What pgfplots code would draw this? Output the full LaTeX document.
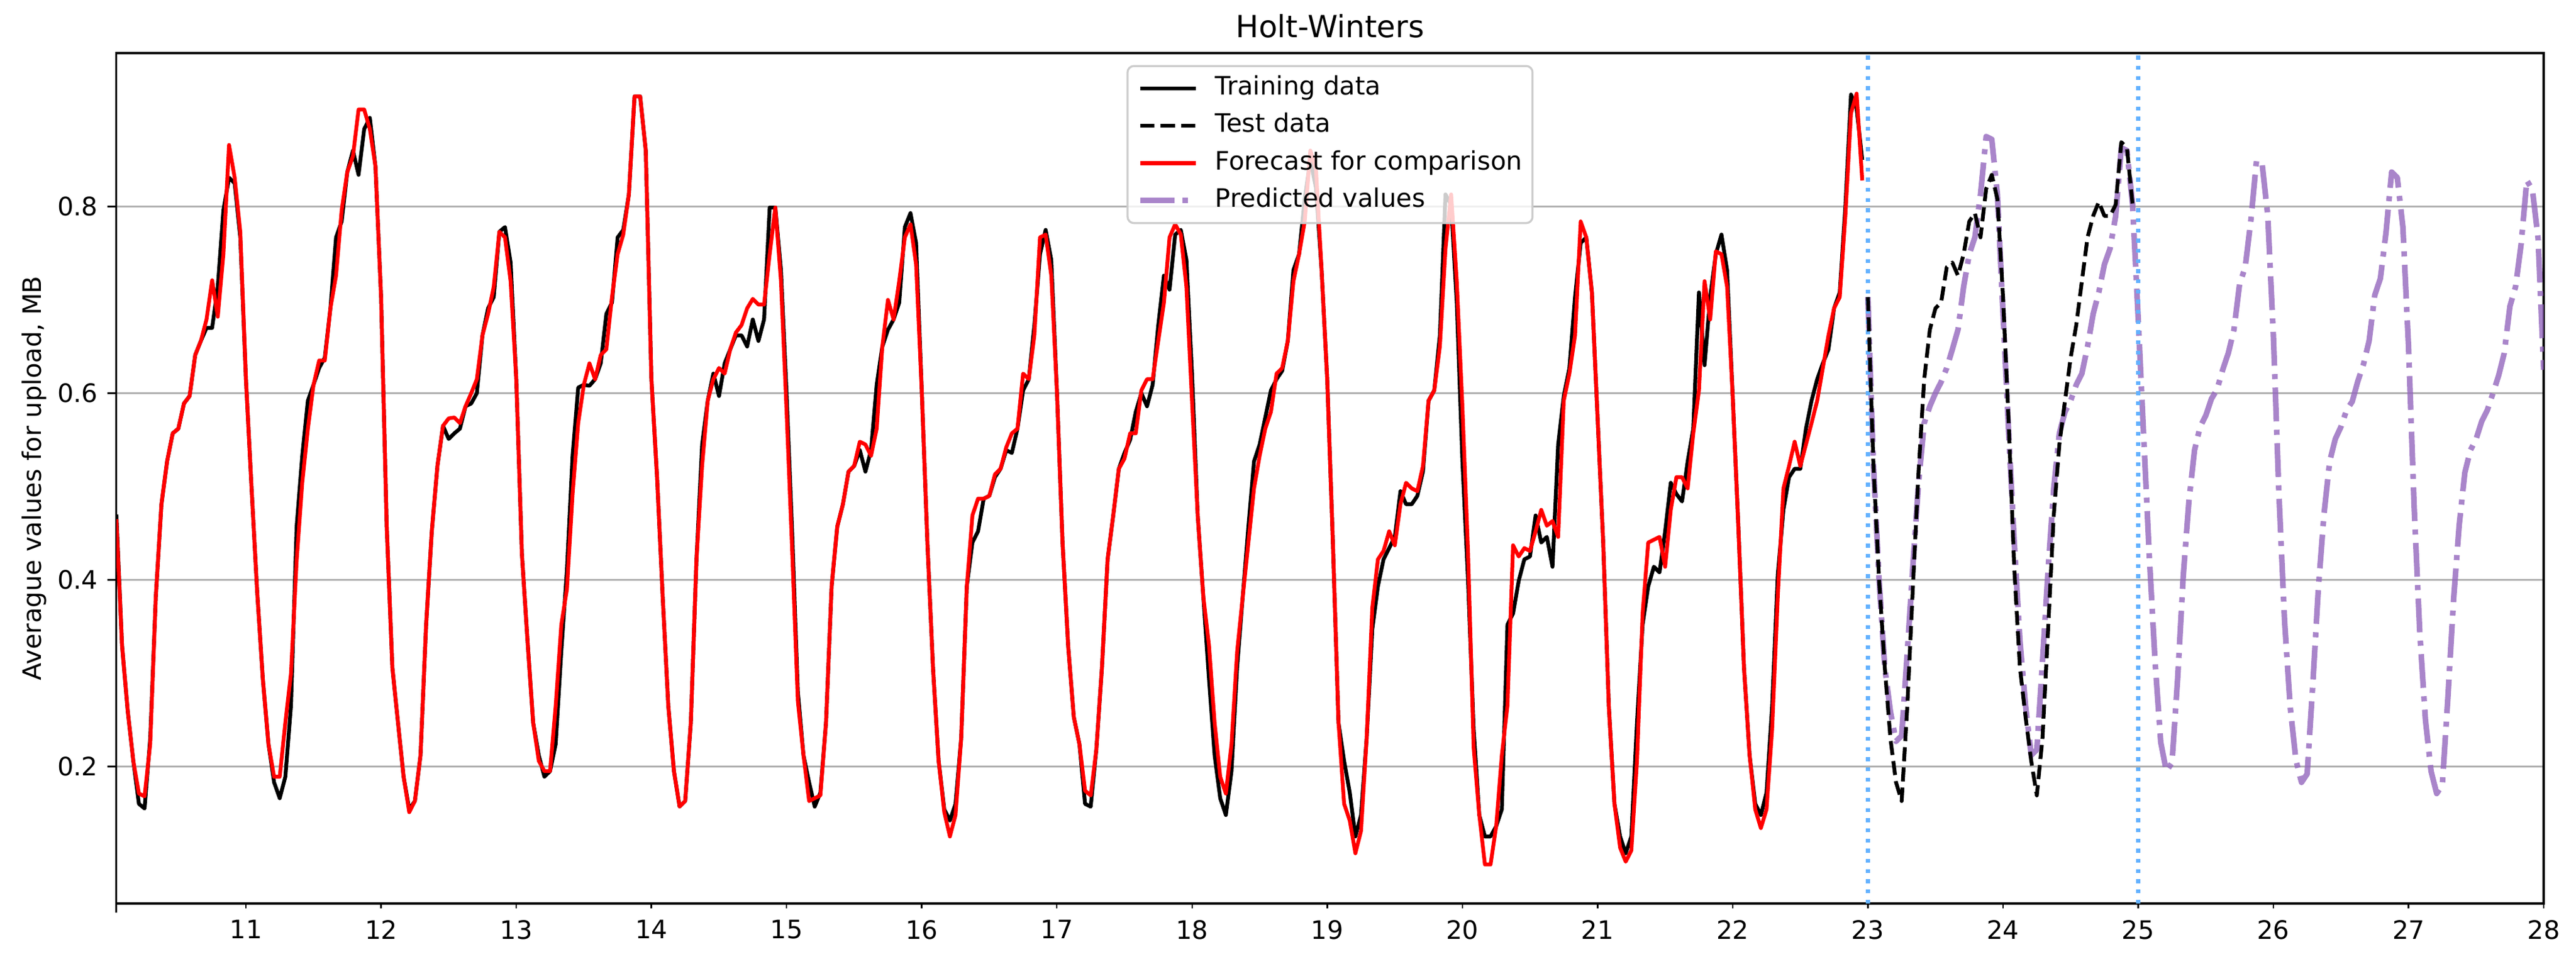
\documentclass[border=0pt]{standalone}
\usepackage{fontspec}
\setmainfont{DejaVu Sans}
\usepackage{pgfplots}
\usepackage{pgfplotstable}
\pgfplotsset{compat=1.18}

\definecolor{predc}{RGB}{148,103,189}
\definecolor{vline}{RGB}{98,177,255}
\definecolor{gridc}{RGB}{176,176,176}
\definecolor{legc}{RGB}{204,204,204}

\pgfplotstableread{
x y f
10.0417 0.470 0.465
10.0833 0.330 0.330
10.1250 0.260 0.260
10.1667 0.206 0.206
10.2083 0.160 0.171
10.2500 0.155 0.168
10.2917 0.230 0.224
10.3333 0.382 0.382
10.3750 0.481 0.481
10.4167 0.527 0.527
10.4583 0.557 0.557
10.5000 0.562 0.562
10.5417 0.589 0.589
10.5833 0.597 0.597
10.6250 0.641 0.641
10.6667 0.656 0.656
10.7083 0.670 0.679
10.7500 0.670 0.721
10.7917 0.714 0.682
10.8333 0.796 0.749
10.8750 0.831 0.866
10.9167 0.825 0.831
10.9583 0.767 0.773
11.0000 0.615 0.615
11.0417 0.498 0.498
11.0833 0.387 0.387
11.1250 0.294 0.294
11.1667 0.224 0.224
11.2083 0.183 0.189
11.2500 0.166 0.189
11.2917 0.189 0.247
11.3333 0.265 0.300
11.3750 0.457 0.420
11.4167 0.533 0.504
11.4583 0.592 0.562
11.5000 0.609 0.609
11.5417 0.627 0.635
11.5833 0.638 0.635
11.6250 0.691 0.691
11.6667 0.767 0.726
11.7083 0.784 0.796
11.7500 0.837 0.837
11.7917 0.860 0.854
11.8333 0.834 0.904
11.8750 0.883 0.904
11.9167 0.895 0.883
11.9583 0.843 0.843
12.0000 0.703 0.703
12.0417 0.457 0.457
12.0833 0.306 0.306
12.1250 0.247 0.247
12.1667 0.189 0.189
12.2083 0.154 0.151
12.2500 0.163 0.163
12.2917 0.212 0.212
12.3333 0.352 0.352
12.3750 0.452 0.452
12.4167 0.522 0.522
12.4583 0.565 0.565
12.5000 0.551 0.573
12.5417 0.557 0.574
12.5833 0.562 0.568
12.6250 0.586 0.586
12.6667 0.589 0.600
12.7083 0.600 0.615
12.7500 0.662 0.662
12.7917 0.691 0.685
12.8333 0.703 0.714
12.8750 0.773 0.773
12.9167 0.778 0.767
12.9583 0.740 0.720
13.0000 0.615 0.615
13.0417 0.428 0.428
13.0833 0.335 0.335
13.1250 0.247 0.247
13.1667 0.212 0.206
13.2083 0.189 0.195
13.2500 0.195 0.195
13.2917 0.224 0.265
13.3333 0.323 0.352
13.3750 0.411 0.390
13.4167 0.533 0.492
13.4583 0.606 0.568
13.5000 0.609 0.609
13.5417 0.608 0.632
13.5833 0.615 0.615
13.6250 0.632 0.641
13.6667 0.685 0.647
13.7083 0.697 0.703
13.7500 0.767 0.749
13.7917 0.775 0.770
13.8333 0.813 0.813
13.8750 0.918 0.918
13.9167 0.918 0.918
13.9583 0.860 0.860
14.0000 0.615 0.615
14.0417 0.510 0.510
14.0833 0.382 0.382
14.1250 0.265 0.265
14.1667 0.195 0.195
14.2083 0.157 0.157
14.2500 0.163 0.163
14.2917 0.247 0.247
14.3333 0.422 0.422
14.3750 0.545 0.522
14.4167 0.592 0.592
14.4583 0.621 0.615
14.5000 0.597 0.627
14.5417 0.632 0.621
14.5833 0.647 0.647
14.6250 0.662 0.665
14.6667 0.662 0.673
14.7083 0.650 0.691
14.7500 0.679 0.701
14.7917 0.656 0.695
14.8333 0.679 0.695
14.8750 0.799 0.749
14.9167 0.799 0.799
14.9583 0.732 0.720
15.0000 0.600 0.580
15.0417 0.450 0.430
15.0833 0.280 0.270
15.1250 0.212 0.212
15.1667 0.183 0.163
15.2083 0.157 0.166
15.2500 0.172 0.169
15.2917 0.247 0.247
15.3333 0.393 0.393
15.3750 0.457 0.457
15.4167 0.481 0.481
15.4583 0.516 0.516
15.5000 0.522 0.522
15.5417 0.539 0.548
15.5833 0.516 0.545
15.6250 0.539 0.533
15.6667 0.609 0.562
15.7083 0.650 0.650
15.7500 0.668 0.700
15.7917 0.679 0.679
15.8333 0.697 0.720
15.8750 0.778 0.767
15.9167 0.793 0.781
15.9583 0.761 0.738
16.0000 0.603 0.603
16.0417 0.440 0.440
16.0833 0.306 0.306
16.1250 0.206 0.206
16.1667 0.154 0.151
16.2083 0.142 0.125
16.2500 0.160 0.148
16.2917 0.230 0.230
16.3333 0.393 0.393
16.3750 0.440 0.469
16.4167 0.452 0.487
16.4583 0.487 0.487
16.5000 0.490 0.490
16.5417 0.510 0.513
16.5833 0.519 0.519
16.6250 0.539 0.542
16.6667 0.536 0.557
16.7083 0.562 0.562
16.7500 0.603 0.621
16.7917 0.615 0.615
16.8333 0.673 0.662
16.8750 0.749 0.767
16.9167 0.775 0.770
16.9583 0.743 0.726
17.0000 0.603 0.603
17.0417 0.440 0.440
17.0833 0.329 0.329
17.1250 0.253 0.253
17.1667 0.224 0.224
17.2083 0.160 0.174
17.2500 0.157 0.169
17.2917 0.218 0.218
17.3333 0.306 0.306
17.3750 0.422 0.422
17.4167 0.469 0.469
17.4583 0.519 0.519
17.5000 0.536 0.530
17.5417 0.550 0.557
17.5833 0.580 0.557
17.6250 0.600 0.603
17.6667 0.586 0.615
17.7083 0.609 0.615
17.7500 0.673 0.656
17.7917 0.726 0.697
17.8333 0.711 0.767
17.8750 0.770 0.781
17.9167 0.775 0.770
17.9583 0.743 0.714
18.0000 0.620 0.590
18.0417 0.469 0.469
18.0833 0.382 0.382
18.1250 0.294 0.330
18.1667 0.212 0.247
18.2083 0.166 0.189
18.2500 0.148 0.171
18.2917 0.195 0.224
18.3333 0.306 0.323
18.3750 0.382 0.382
18.4167 0.457 0.440
18.4583 0.527 0.498
18.5000 0.545 0.533
18.5417 0.574 0.562
18.5833 0.603 0.580
18.6250 0.615 0.621
18.6667 0.624 0.627
18.7083 0.656 0.656
18.7500 0.732 0.720
18.7917 0.749 0.749
18.8333 0.808 0.784
18.8750 0.850 0.860
18.9167 0.820 0.840
18.9583 0.732 0.732
19.0000 0.615 0.615
19.0417 0.440 0.440
19.0833 0.247 0.247
19.1250 0.206 0.160
19.1667 0.172 0.142
19.2083 0.125 0.107
19.2500 0.148 0.131
19.2917 0.230 0.230
19.3333 0.347 0.370
19.3750 0.393 0.422
19.4167 0.422 0.431
19.4583 0.434 0.452
19.5000 0.446 0.437
19.5417 0.495 0.481
19.5833 0.481 0.504
19.6250 0.481 0.498
19.6667 0.490 0.495
19.7083 0.516 0.522
19.7500 0.592 0.592
19.7917 0.603 0.603
19.8333 0.662 0.650
19.8750 0.813 0.755
19.9167 0.802 0.813
19.9583 0.697 0.720
20.0000 0.527 0.586
20.0417 0.400 0.430
20.0833 0.240 0.220
20.1250 0.148 0.148
20.1667 0.125 0.095
20.2083 0.125 0.095
20.2500 0.136 0.136
20.2917 0.154 0.212
20.3333 0.352 0.265
20.3750 0.364 0.437
20.4167 0.399 0.425
20.4583 0.422 0.434
20.5000 0.425 0.431
20.5417 0.469 0.452
20.5833 0.440 0.475
20.6250 0.446 0.458
20.6667 0.414 0.463
20.7083 0.545 0.446
20.7500 0.597 0.592
20.7917 0.627 0.621
20.8333 0.703 0.662
20.8750 0.761 0.784
20.9167 0.767 0.767
20.9583 0.708 0.708
21.0000 0.574 0.574
21.0417 0.440 0.440
21.0833 0.265 0.265
21.1250 0.160 0.160
21.1667 0.125 0.113
21.2083 0.107 0.098
21.2500 0.125 0.110
21.2917 0.247 0.206
21.3333 0.352 0.364
21.3750 0.393 0.440
21.4167 0.414 0.443
21.4583 0.408 0.446
21.5000 0.452 0.414
21.5417 0.504 0.475
21.5833 0.492 0.510
21.6250 0.484 0.510
21.6667 0.527 0.498
21.7083 0.562 0.557
21.7500 0.708 0.603
21.7917 0.630 0.720
21.8333 0.703 0.679
21.8750 0.749 0.752
21.9167 0.770 0.749
21.9583 0.732 0.714
22.0000 0.597 0.597
22.0417 0.457 0.457
22.0833 0.306 0.306
22.1250 0.212 0.212
22.1667 0.160 0.154
22.2083 0.148 0.134
22.2500 0.172 0.154
22.2917 0.265 0.240
22.3333 0.405 0.382
22.3750 0.475 0.498
22.4167 0.510 0.522
22.4583 0.519 0.548
22.5000 0.519 0.522
22.5417 0.562 0.545
22.5833 0.592 0.568
22.6250 0.615 0.592
22.6667 0.632 0.627
22.7083 0.647 0.662
22.7500 0.691 0.691
22.7917 0.708 0.703
22.8333 0.800 0.790
22.8750 0.920 0.900
22.9167 0.905 0.921
22.9583 0.850 0.828
}\traintab

\pgfplotstableread{
x y
23.0000 0.703
23.0417 0.522
23.0833 0.399
23.1250 0.306
23.1667 0.230
23.2083 0.183
23.2500 0.163
23.2917 0.265
23.3333 0.393
23.3750 0.516
23.4167 0.615
23.4583 0.668
23.5000 0.691
23.5417 0.697
23.5833 0.735
23.6250 0.740
23.6667 0.726
23.7083 0.749
23.7500 0.784
23.7917 0.793
23.8333 0.767
23.8750 0.819
23.9167 0.834
23.9583 0.808
24.0000 0.703
24.0417 0.568
24.0833 0.411
24.1250 0.306
24.1667 0.253
24.2083 0.206
24.2500 0.169
24.2917 0.230
24.3333 0.347
24.3750 0.469
24.4167 0.545
24.4583 0.592
24.5000 0.638
24.5417 0.673
24.5833 0.720
24.6250 0.767
24.6667 0.790
24.7083 0.805
24.7500 0.790
24.7917 0.790
24.8333 0.802
24.8750 0.869
24.9167 0.863
24.9583 0.802
}\testtab

\pgfplotstableread{
x y
23.0000 0.703
23.0417 0.522
23.0833 0.399
23.1250 0.306
23.1667 0.259
23.2083 0.227
23.2500 0.233
23.2917 0.323
23.3333 0.416
23.3750 0.504
23.4167 0.568
23.4583 0.586
23.5000 0.600
23.5417 0.612
23.5833 0.627
23.6250 0.647
23.6667 0.668
23.7083 0.714
23.7500 0.749
23.7917 0.767
23.8333 0.813
23.8750 0.875
23.9167 0.872
23.9583 0.813
24.0000 0.685
24.0417 0.557
24.0833 0.440
24.1250 0.335
24.1667 0.265
24.2083 0.212
24.2500 0.218
24.2917 0.312
24.3333 0.411
24.3750 0.498
24.4167 0.557
24.4583 0.580
24.5000 0.592
24.5417 0.609
24.5833 0.621
24.6250 0.650
24.6667 0.685
24.7083 0.708
24.7500 0.738
24.7917 0.755
24.8333 0.790
24.8750 0.863
24.9167 0.860
24.9583 0.802
25.0000 0.680
25.0417 0.550
25.0833 0.422
25.1250 0.312
25.1667 0.226
25.2083 0.195
25.2500 0.204
25.2917 0.294
25.3333 0.404
25.3750 0.484
25.4167 0.539
25.4583 0.564
25.5000 0.576
25.5417 0.594
25.5833 0.604
25.6250 0.625
25.6667 0.643
25.7083 0.668
25.7500 0.717
25.7917 0.735
25.8333 0.785
25.8750 0.849
25.9167 0.846
25.9583 0.791
26.0000 0.662
26.0417 0.490
26.0833 0.355
26.1250 0.263
26.1667 0.207
26.2083 0.183
26.2500 0.192
26.2917 0.288
26.3333 0.392
26.3750 0.471
26.4167 0.527
26.4583 0.551
26.5000 0.564
26.5417 0.582
26.5833 0.591
26.6250 0.613
26.6667 0.631
26.7083 0.656
26.7500 0.705
26.7917 0.723
26.8333 0.772
26.8750 0.837
26.9167 0.831
26.9583 0.778
27.0000 0.650
27.0417 0.478
27.0833 0.343
27.1250 0.250
27.1667 0.195
27.2083 0.171
27.2500 0.180
27.2917 0.275
27.3333 0.379
27.3750 0.459
27.4167 0.515
27.4583 0.539
27.5000 0.551
27.5417 0.570
27.5833 0.582
27.6250 0.600
27.6667 0.619
27.7083 0.643
27.7500 0.693
27.7917 0.714
27.8333 0.760
27.8750 0.828
27.9167 0.818
27.9583 0.766
28.0000 0.625
}\predtab

\begin{document}
\begin{tikzpicture}
\begin{axis}[
  scale only axis,
  width=954.77pt, height=334.56pt,
  xmin=10.0417, xmax=28, ymin=0.0532, ymax=0.9645,
  axis line style={line width=0.8pt, black},
  tick align=inside,
  tick pos=left,
  major tick length=-3.5pt,
  tick style={line width=0.8pt, black},
  xtick={10.0417},
  xticklabels={},
  extra x ticks={11,12,13,14,15,16,17,18,19,20,21,22,23,24,25,26,27,28},
  extra x tick labels={11,12,13,14,15,16,17,18,19,20,21,22,23,24,25,26,27,\raisebox{-1.7pt}{28}},
  extra x tick style={major tick length=-2pt, tick style={line width=0.6pt, black}},
  ytick={0.2,0.4,0.6,0.8},
  yticklabels={0.2,0.4,0.6,0.8},
  /pgf/number format/assume math mode=true,
  ticklabel style={font=\fontsize{10}{12}\selectfont},
  xticklabel style={anchor=north, yshift=-3pt},
  yticklabel style={anchor=east, xshift=-3.77pt},
  ymajorgrids,
  grid style={gridc, line width=0.8pt},
  title={Holt-Winters},
  title style={font=\fontsize{12}{14}\selectfont, at={(axis description cs:0.5,1)}, anchor=base, yshift=0.1pt},
  ylabel={Averague values for upload, MB},
  ylabel style={font=\fontsize{10}{12}\selectfont, at={([xshift=-32.35pt]axis description cs:0,0.5)}, anchor=center},
  legend cell align=left,
  legend image code/.code={\draw[#1] (0pt,0pt) -- (21.8pt,0pt); \path (0pt,0pt) (28.3pt,0pt);},
  legend style={
    at={(axis description cs:0.5,1)}, anchor=north, yshift=-4.7pt,
    draw=legc, line width=0.8pt, rounded corners=2.5pt,
    fill=white, fill opacity=0.8, draw opacity=1, text opacity=1,
    inner xsep=4pt, inner ysep=1.5pt,
    row sep=0pt,
    font=\fontsize{10}{12}\selectfont,
    nodes={inner xsep=0pt, inner ysep=2.3pt, text height=7.6pt, text depth=2.5pt},
  },
]
\coordinate (bl) at (rel axis cs:0,0);
\coordinate (tr) at (rel axis cs:1,1);

\addlegendimage{line width=1.5pt, black, line join=round}
\addlegendentry{Training data}
\addlegendimage{line width=1.5pt, black, dash pattern=on 5.55pt off 2.4pt}
\addlegendentry{Test data}
\addlegendimage{line width=1.5pt, red, line join=round}
\addlegendentry{Forecast for comparison}
\addlegendimage{line width=2.2pt, predc, draw opacity=0.8, dash pattern=on 13.3pt off 3.3pt on 2pt off 3.3pt}
\addlegendentry{Predicted values}

\addplot[forget plot, line width=2.2pt, predc, draw opacity=0.8, line join=round, dash pattern=on 13.3pt off 3.3pt on 2pt off 3.3pt] table[x=x, y=y] {\predtab};
\addplot[forget plot, line width=1.5pt, vline, dash pattern=on 1.5pt off 2.5pt] coordinates {(23,0.0532) (23,0.9645)};
\addplot[forget plot, line width=1.5pt, vline, dash pattern=on 1.5pt off 2.5pt] coordinates {(25,0.0532) (25,0.9645)};
\addplot[forget plot, line width=1.5pt, black, line join=round, dash pattern=on 5.55pt off 2.4pt] table[x=x, y=y] {\testtab};
\addplot[forget plot, line width=1.5pt, black, line join=round] table[x=x, y=y] {\traintab};
\addplot[forget plot, line width=1.5pt, red, line join=round] table[x=x, y=f] {\traintab};
\end{axis}
\pgfresetboundingbox
\path[use as bounding box] ([shift={(-45.79pt,-21.6pt)}]bl) rectangle ([shift={(12.72pt,20.88pt)}]tr);
\end{tikzpicture}
\end{document}
